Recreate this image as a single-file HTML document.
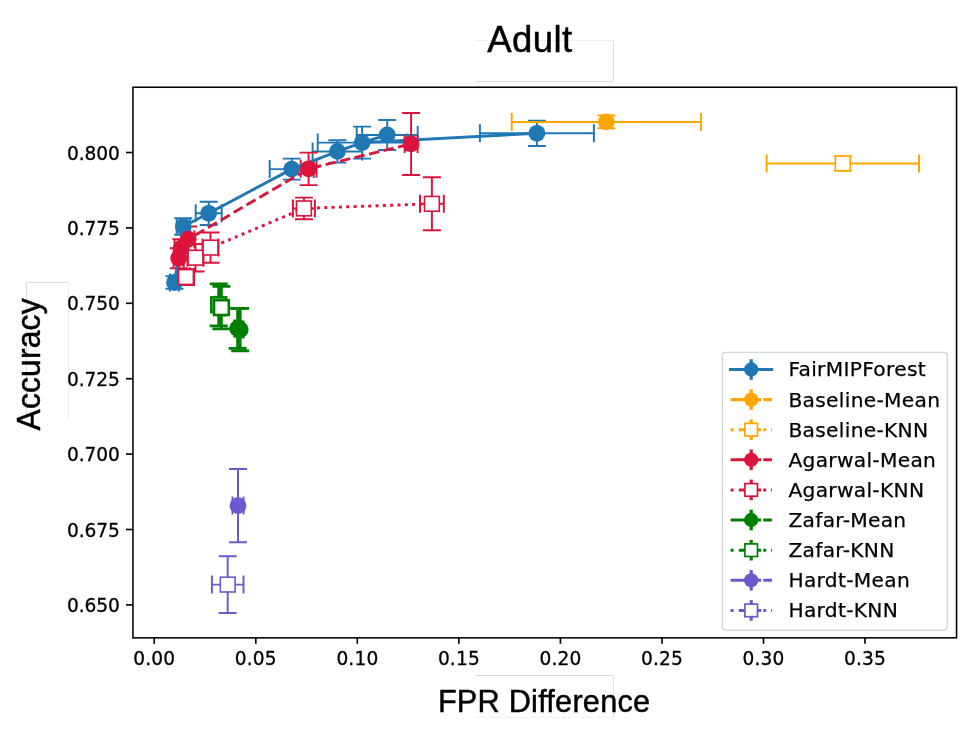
<!DOCTYPE html>
<html lang="en"><head><meta charset="utf-8"><title>Adult</title>
<style>html,body{margin:0;padding:0;background:#fff}body{width:969px;height:729px;overflow:hidden}</style></head>
<body>
<svg width="969" height="729" viewBox="0 0 969 729" style="display:block">
<rect width="969" height="729" fill="#fff"/>
<g fill="none" stroke-width="1">
<path d="M475.5 40.5H613.5" stroke="#efefef"/><path d="M613.5 40.5V81.5H475.5" stroke="#dcdcdc"/>
<path d="M475.5 675.5H613.5" stroke="#d9d9d9"/><path d="M613.5 675.5V717.5" stroke="#e2e2e2"/><path d="M475.5 717.5H613.5" stroke="#f2f2f2"/>
<path d="M26.5 419.5V282.5H68.5" stroke="#dddddd"/><path d="M68.5 282.5V419.5" stroke="#ececec"/>
</g>
<defs><clipPath id="ax"><rect x="132.95" y="87.25" width="823.5999999999999" height="550.6"/></clipPath></defs>
<g clip-path="url(#ax)">
<path d="M170.0 282.5H179.0M170.0 273.5V291.5M179.0 273.5V291.5" stroke="#1f77b4" stroke-width="1.95" fill="none"/>
<path d="M174.5 276.3V288.7M165.5 276.3H183.5M165.5 288.7H183.5" stroke="#1f77b4" stroke-width="1.95" fill="none"/>
<path d="M176.7 226.5H189.9M176.7 217.5V235.5M189.9 217.5V235.5" stroke="#1f77b4" stroke-width="1.95" fill="none"/>
<path d="M183.3 218.3V234.7M174.3 218.3H192.3M174.3 234.7H192.3" stroke="#1f77b4" stroke-width="1.95" fill="none"/>
<path d="M195.7 213.3H221.7M195.7 204.3V222.3M221.7 204.3V222.3" stroke="#1f77b4" stroke-width="1.95" fill="none"/>
<path d="M208.7 201.7V224.9M199.7 201.7H217.7M199.7 224.9H217.7" stroke="#1f77b4" stroke-width="1.95" fill="none"/>
<path d="M269.7 169.1H313.7M269.7 160.1V178.1M313.7 160.1V178.1" stroke="#1f77b4" stroke-width="1.95" fill="none"/>
<path d="M291.7 158.6V179.6M282.7 158.6H300.7M282.7 179.6H300.7" stroke="#1f77b4" stroke-width="1.95" fill="none"/>
<path d="M312.6 151.4H362.2M312.6 142.4V160.4M362.2 142.4V160.4" stroke="#1f77b4" stroke-width="1.95" fill="none"/>
<path d="M337.4 140.2V162.6M328.4 140.2H346.4M328.4 162.6H346.4" stroke="#1f77b4" stroke-width="1.95" fill="none"/>
<path d="M317.7 142.6H406.5M317.7 133.6V151.6M406.5 133.6V151.6" stroke="#1f77b4" stroke-width="1.95" fill="none"/>
<path d="M362.1 126.6V158.6M353.1 126.6H371.1M353.1 158.6H371.1" stroke="#1f77b4" stroke-width="1.95" fill="none"/>
<path d="M356.7 134.9H417.7M356.7 125.9V143.9M417.7 125.9V143.9" stroke="#1f77b4" stroke-width="1.95" fill="none"/>
<path d="M387.2 119.9V149.9M378.2 119.9H396.2M378.2 149.9H396.2" stroke="#1f77b4" stroke-width="1.95" fill="none"/>
<path d="M479.9 133.3H593.9M479.9 124.3V142.3M593.9 124.3V142.3" stroke="#1f77b4" stroke-width="1.95" fill="none"/>
<path d="M536.9 120.7V145.9M527.9 120.7H545.9M527.9 145.9H545.9" stroke="#1f77b4" stroke-width="1.95" fill="none"/>
<path d="M511.7 121.9H700.9M511.7 112.9V130.9M700.9 112.9V130.9" stroke="#ffa500" stroke-width="1.95" fill="none"/>
<path d="M606.3 115.5V128.3M597.3 115.5H615.3M597.3 128.3H615.3" stroke="#ffa500" stroke-width="1.95" fill="none"/>
<path d="M766.6 163.4H919.0M766.6 154.4V172.4M919.0 154.4V172.4" stroke="#ffa500" stroke-width="1.95" fill="none"/>
<path d="M842.8 156.4V170.4M833.8 156.4H851.8M833.8 170.4H851.8" stroke="#ffa500" stroke-width="1.95" fill="none"/>
<path d="M173.7 258.3H183.7M173.7 249.3V267.3M183.7 249.3V267.3" stroke="#dc143c" stroke-width="1.95" fill="none"/>
<path d="M178.7 248.3V268.3M169.7 248.3H187.7M169.7 268.3H187.7" stroke="#dc143c" stroke-width="1.95" fill="none"/>
<path d="M174.6 247.9H188.0M174.6 238.9V256.9M188.0 238.9V256.9" stroke="#dc143c" stroke-width="1.95" fill="none"/>
<path d="M181.3 239.2V256.6M172.3 239.2H190.3M172.3 256.6H190.3" stroke="#dc143c" stroke-width="1.95" fill="none"/>
<path d="M182.0 239.2H194.4M182.0 230.2V248.2M194.4 230.2V248.2" stroke="#dc143c" stroke-width="1.95" fill="none"/>
<path d="M188.2 226.5V251.9M179.2 226.5H197.2M179.2 251.9H197.2" stroke="#dc143c" stroke-width="1.95" fill="none"/>
<path d="M300.7 168.8H316.5M300.7 159.8V177.8M316.5 159.8V177.8" stroke="#dc143c" stroke-width="1.95" fill="none"/>
<path d="M308.6 152.6V185.1M299.6 152.6H317.6M299.6 185.1H317.6" stroke="#dc143c" stroke-width="1.95" fill="none"/>
<path d="M404.6 143.9H417.6M404.6 134.9V152.9M417.6 134.9V152.9" stroke="#dc143c" stroke-width="1.95" fill="none"/>
<path d="M411.1 112.9V174.9M402.1 112.9H420.1M402.1 174.9H420.1" stroke="#dc143c" stroke-width="1.95" fill="none"/>
<path d="M178.0 277.0H194.0M178.0 268.0V286.0M194.0 268.0V286.0" stroke="#dc143c" stroke-width="1.95" fill="none"/>
<path d="M186.0 269.1V284.9M177.0 269.1H195.0M177.0 284.9H195.0" stroke="#dc143c" stroke-width="1.95" fill="none"/>
<path d="M187.5 257.7H203.5M187.5 248.7V266.7M203.5 248.7V266.7" stroke="#dc143c" stroke-width="1.95" fill="none"/>
<path d="M195.5 243.9V271.5M186.5 243.9H204.5M186.5 271.5H204.5" stroke="#dc143c" stroke-width="1.95" fill="none"/>
<path d="M202.5 247.6H218.5M202.5 238.6V256.6M218.5 238.6V256.6" stroke="#dc143c" stroke-width="1.95" fill="none"/>
<path d="M210.5 232.4V262.8M201.5 232.4H219.5M201.5 262.8H219.5" stroke="#dc143c" stroke-width="1.95" fill="none"/>
<path d="M292.9 208.4H314.9M292.9 199.4V217.4M314.9 199.4V217.4" stroke="#dc143c" stroke-width="1.95" fill="none"/>
<path d="M303.9 197.6V219.2M294.9 197.6H312.9M294.9 219.2H312.9" stroke="#dc143c" stroke-width="1.95" fill="none"/>
<path d="M420.0 203.8H443.8M420.0 194.8V212.8M443.8 194.8V212.8" stroke="#dc143c" stroke-width="1.95" fill="none"/>
<path d="M431.9 177.3V230.3M422.9 177.3H440.9M422.9 230.3H440.9" stroke="#dc143c" stroke-width="1.95" fill="none"/>
<path d="M234.6 328.4H240.6M234.6 319.4V337.4M240.6 319.4V337.4" stroke="#008000" stroke-width="2.8" fill="none"/>
<path d="M237.6 308.4V348.4M228.6 308.4H246.6M228.6 348.4H246.6" stroke="#008000" stroke-width="2.8" fill="none"/>
<path d="M237.2 329.6H243.2M237.2 320.6V338.6M243.2 320.6V338.6" stroke="#008000" stroke-width="2.8" fill="none"/>
<path d="M240.2 308.4V350.8M231.2 308.4H249.2M231.2 350.8H249.2" stroke="#008000" stroke-width="2.8" fill="none"/>
<path d="M215.7 304.8H221.7M215.7 295.8V313.8M221.7 295.8V313.8" stroke="#008000" stroke-width="2.8" fill="none"/>
<path d="M218.7 283.8V325.8M209.7 283.8H227.7M209.7 325.8H227.7" stroke="#008000" stroke-width="2.8" fill="none"/>
<path d="M218.4 307.6H224.4M218.4 298.6V316.6M224.4 298.6V316.6" stroke="#008000" stroke-width="2.8" fill="none"/>
<path d="M221.4 286.4V328.8M212.4 286.4H230.4M212.4 328.8H230.4" stroke="#008000" stroke-width="2.8" fill="none"/>
<path d="M232.5 505.6H243.5M232.5 496.6V514.6M243.5 496.6V514.6" stroke="#6a5acd" stroke-width="1.95" fill="none"/>
<path d="M238.0 468.9V542.3M229.0 468.9H247.0M229.0 542.3H247.0" stroke="#6a5acd" stroke-width="1.95" fill="none"/>
<path d="M211.9 584.6H243.5M211.9 575.6V593.6M243.5 575.6V593.6" stroke="#6a5acd" stroke-width="1.95" fill="none"/>
<path d="M227.7 556.2V613.0M218.7 556.2H236.7M218.7 613.0H236.7" stroke="#6a5acd" stroke-width="1.95" fill="none"/>
<path d="M174.5 282.5L183.3 226.5L208.7 213.3L291.7 169.1L337.4 151.4L362.1 142.6L387.2 134.9L362.1 142.6L536.9 133.3" stroke="#1f77b4" stroke-width="2.9" fill="none" stroke-linejoin="round"/>
<circle cx="174.5" cy="282.5" r="8.4" fill="#1f77b4"/>
<circle cx="183.3" cy="226.5" r="8.4" fill="#1f77b4"/>
<circle cx="208.7" cy="213.3" r="8.4" fill="#1f77b4"/>
<circle cx="291.7" cy="169.1" r="8.4" fill="#1f77b4"/>
<circle cx="337.4" cy="151.4" r="8.4" fill="#1f77b4"/>
<circle cx="362.1" cy="142.6" r="8.4" fill="#1f77b4"/>
<circle cx="387.2" cy="134.9" r="8.4" fill="#1f77b4"/>
<circle cx="536.9" cy="133.3" r="8.4" fill="#1f77b4"/>
<circle cx="606.3" cy="121.9" r="8.4" fill="#ffa500"/>
<rect x="835.4" y="156.0" width="14.8" height="14.8" fill="#fff" stroke="#ffa500" stroke-width="1.6"/>
<path d="M178.7 258.3L181.3 247.9L188.2 239.2L308.6 168.8L411.1 143.9" stroke="#dc143c" stroke-width="2.9" fill="none" stroke-linejoin="round" stroke-dasharray="10.4 4.5"/>
<circle cx="178.7" cy="258.3" r="8.4" fill="#dc143c"/>
<circle cx="181.3" cy="247.9" r="8.4" fill="#dc143c"/>
<circle cx="188.2" cy="239.2" r="8.4" fill="#dc143c"/>
<circle cx="308.6" cy="168.8" r="8.4" fill="#dc143c"/>
<circle cx="411.1" cy="143.9" r="8.4" fill="#dc143c"/>
<path d="M186.0 277.0L195.5 257.7L210.5 247.6L303.9 208.4L431.9 203.8" stroke="#dc143c" stroke-width="2.9" fill="none" stroke-linejoin="round" stroke-dasharray="3.0 4.33"/>
<rect x="178.6" y="269.6" width="14.8" height="14.8" fill="#fff" stroke="#dc143c" stroke-width="1.6"/>
<rect x="188.1" y="250.3" width="14.8" height="14.8" fill="#fff" stroke="#dc143c" stroke-width="1.6"/>
<rect x="203.1" y="240.2" width="14.8" height="14.8" fill="#fff" stroke="#dc143c" stroke-width="1.6"/>
<rect x="296.5" y="201.0" width="14.8" height="14.8" fill="#fff" stroke="#dc143c" stroke-width="1.6"/>
<rect x="424.5" y="196.4" width="14.8" height="14.8" fill="#fff" stroke="#dc143c" stroke-width="1.6"/>
<path d="M237.6 328.4L240.2 329.6" stroke="#008000" stroke-width="2.9" fill="none" stroke-linejoin="round" stroke-dasharray="10.4 4.5"/>
<circle cx="237.6" cy="328.4" r="8.4" fill="#008000"/>
<circle cx="240.2" cy="329.6" r="8.4" fill="#008000"/>
<path d="M218.7 304.8L221.4 307.6" stroke="#008000" stroke-width="2.9" fill="none" stroke-linejoin="round" stroke-dasharray="3.0 4.33"/>
<rect x="211.3" y="297.4" width="14.8" height="14.8" fill="#fff" stroke="#008000" stroke-width="2.6"/>
<rect x="214.0" y="300.2" width="14.8" height="14.8" fill="#fff" stroke="#008000" stroke-width="2.6"/>
<circle cx="238.0" cy="505.6" r="8.4" fill="#6a5acd"/>
<rect x="220.3" y="577.2" width="14.8" height="14.8" fill="#fff" stroke="#6a5acd" stroke-width="1.6"/>
</g>
<g stroke="#000" stroke-width="1.55" fill="none">
<path d="M154.2 637.85V643.8" stroke-width="1.65"/>
<path d="M255.8 637.85V643.8" stroke-width="1.65"/>
<path d="M357.3 637.85V643.8" stroke-width="1.65"/>
<path d="M458.8 637.85V643.8" stroke-width="1.65"/>
<path d="M560.4 637.85V643.8" stroke-width="1.65"/>
<path d="M662.0 637.85V643.8" stroke-width="1.65"/>
<path d="M763.5 637.85V643.8" stroke-width="1.65"/>
<path d="M865.0 637.85V643.8" stroke-width="1.65"/>
<path d="M132.95 604.9H126.0" stroke-width="1.65"/>
<path d="M132.95 529.5H126.0" stroke-width="1.65"/>
<path d="M132.95 454.1H126.0" stroke-width="1.65"/>
<path d="M132.95 378.7H126.0" stroke-width="1.65"/>
<path d="M132.95 303.3H126.0" stroke-width="1.65"/>
<path d="M132.95 227.9H126.0" stroke-width="1.65"/>
<path d="M132.95 152.5H126.0" stroke-width="1.65"/>
<rect x="132.95" y="87.25" width="823.6" height="550.6"/>
</g>
<g font-family="'DejaVu Sans', 'Liberation Sans', sans-serif" font-size="18.6" fill="#000" stroke="#000" stroke-width="0.3">
<text x="154.3" y="665.0" text-anchor="middle" letter-spacing="0.15">0.00</text>
<text x="255.8" y="665.0" text-anchor="middle" letter-spacing="0.15">0.05</text>
<text x="357.4" y="665.0" text-anchor="middle" letter-spacing="0.15">0.10</text>
<text x="458.9" y="665.0" text-anchor="middle" letter-spacing="0.15">0.15</text>
<text x="560.5" y="665.0" text-anchor="middle" letter-spacing="0.15">0.20</text>
<text x="662.1" y="665.0" text-anchor="middle" letter-spacing="0.15">0.25</text>
<text x="763.6" y="665.0" text-anchor="middle" letter-spacing="0.15">0.30</text>
<text x="865.1" y="665.0" text-anchor="middle" letter-spacing="0.15">0.35</text>
<text x="119.6" y="611.9" text-anchor="end" letter-spacing="-0.15">0.650</text>
<text x="119.6" y="536.5" text-anchor="end" letter-spacing="-0.15">0.675</text>
<text x="119.6" y="461.1" text-anchor="end" letter-spacing="-0.15">0.700</text>
<text x="119.6" y="385.7" text-anchor="end" letter-spacing="-0.15">0.725</text>
<text x="119.6" y="310.3" text-anchor="end" letter-spacing="-0.15">0.750</text>
<text x="119.6" y="234.9" text-anchor="end" letter-spacing="-0.15">0.775</text>
<text x="119.6" y="159.5" text-anchor="end" letter-spacing="-0.15">0.800</text>
</g>
<g font-family="'Liberation Sans', sans-serif" fill="#000" stroke="#000" stroke-width="0.45">
<text x="487.3" y="51.8" font-size="36.6" letter-spacing="0.4">Adult</text>
<text x="437.9" y="711.6" font-size="30.7" letter-spacing="0.23">FPR Difference</text>
<text transform="translate(40.3 430.4) rotate(-90) scale(1 1.035)" font-size="31.8" letter-spacing="0.17">Accuracy</text>
</g>
<rect x="722.4" y="352.4" width="224.8" height="277.7" rx="3.4" fill="#fff" fill-opacity="0.8" stroke="#d4d4d4" stroke-width="1.4"/>
<path d="M729 369.5H773.2" stroke="#1f77b4" stroke-width="3.05"/>
<path d="M751.2 359.2V379.8" stroke="#1f77b4" stroke-width="3.2"/>
<circle cx="751.2" cy="369.5" r="7.15" fill="#1f77b4"/>
<text x="788.4" y="376.4" font-family="'DejaVu Sans', 'Liberation Sans', sans-serif" font-size="20.2" letter-spacing="0.31" fill="#000" stroke="#000" stroke-width="0.25">FairMIPForest</text>
<path d="M730.6 399.6H761.2M763.3 399.6H771.9" stroke="#ffa500" stroke-width="3.05"/>
<path d="M751.2 389.3V409.9" stroke="#ffa500" stroke-width="3.2"/>
<circle cx="751.2" cy="399.6" r="7.15" fill="#ffa500"/>
<text x="788.4" y="406.5" font-family="'DejaVu Sans', 'Liberation Sans', sans-serif" font-size="20.2" letter-spacing="0.31" fill="#000" stroke="#000" stroke-width="0.25">Baseline-Mean</text>
<path d="M730.6 429.7H733.6M738.8 429.7H761.2M763.3 429.7H766.2M771.0 429.7H771.9" stroke="#ffa500" stroke-width="3.05"/>
<path d="M751.2 419.4V440.0" stroke="#ffa500" stroke-width="3.2"/>
<rect x="744.9" y="423.4" width="12.6" height="12.6" fill="#fff" stroke="#ffa500" stroke-width="1.7"/>
<text x="788.4" y="436.6" font-family="'DejaVu Sans', 'Liberation Sans', sans-serif" font-size="20.2" letter-spacing="0.31" fill="#000" stroke="#000" stroke-width="0.25">Baseline-KNN</text>
<path d="M730.6 459.8H761.2M763.3 459.8H771.9" stroke="#dc143c" stroke-width="3.05"/>
<path d="M751.2 449.5V470.1" stroke="#dc143c" stroke-width="3.2"/>
<circle cx="751.2" cy="459.8" r="7.15" fill="#dc143c"/>
<text x="788.4" y="466.7" font-family="'DejaVu Sans', 'Liberation Sans', sans-serif" font-size="20.2" letter-spacing="0.31" fill="#000" stroke="#000" stroke-width="0.25">Agarwal-Mean</text>
<path d="M730.6 489.9H733.6M738.8 489.9H761.2M763.3 489.9H766.2M771.0 489.9H771.9" stroke="#dc143c" stroke-width="3.05"/>
<path d="M751.2 479.6V500.2" stroke="#dc143c" stroke-width="3.2"/>
<rect x="744.9" y="483.6" width="12.6" height="12.6" fill="#fff" stroke="#dc143c" stroke-width="1.7"/>
<text x="788.4" y="496.8" font-family="'DejaVu Sans', 'Liberation Sans', sans-serif" font-size="20.2" letter-spacing="0.31" fill="#000" stroke="#000" stroke-width="0.25">Agarwal-KNN</text>
<path d="M730.6 520.0H761.2M763.3 520.0H771.9" stroke="#008000" stroke-width="3.05"/>
<path d="M751.2 509.7V530.3" stroke="#008000" stroke-width="3.2"/>
<circle cx="751.2" cy="520.0" r="7.15" fill="#008000"/>
<text x="788.4" y="526.9" font-family="'DejaVu Sans', 'Liberation Sans', sans-serif" font-size="20.2" letter-spacing="0.31" fill="#000" stroke="#000" stroke-width="0.25">Zafar-Mean</text>
<path d="M730.6 550.2H733.6M738.8 550.2H761.2M763.3 550.2H766.2M771.0 550.2H771.9" stroke="#008000" stroke-width="3.05"/>
<path d="M751.2 539.9V560.5" stroke="#008000" stroke-width="3.2"/>
<rect x="744.9" y="543.9" width="12.6" height="12.6" fill="#fff" stroke="#008000" stroke-width="1.7"/>
<text x="788.4" y="557.1" font-family="'DejaVu Sans', 'Liberation Sans', sans-serif" font-size="20.2" letter-spacing="0.31" fill="#000" stroke="#000" stroke-width="0.25">Zafar-KNN</text>
<path d="M730.6 580.3H761.2M763.3 580.3H771.9" stroke="#6a5acd" stroke-width="3.05"/>
<path d="M751.2 570.0V590.6" stroke="#6a5acd" stroke-width="3.2"/>
<circle cx="751.2" cy="580.3" r="7.15" fill="#6a5acd"/>
<text x="788.4" y="587.2" font-family="'DejaVu Sans', 'Liberation Sans', sans-serif" font-size="20.2" letter-spacing="0.31" fill="#000" stroke="#000" stroke-width="0.25">Hardt-Mean</text>
<path d="M730.6 610.4H733.6M738.8 610.4H761.2M763.3 610.4H766.2M771.0 610.4H771.9" stroke="#6a5acd" stroke-width="3.05"/>
<path d="M751.2 600.1V620.7" stroke="#6a5acd" stroke-width="3.2"/>
<rect x="744.9" y="604.1" width="12.6" height="12.6" fill="#fff" stroke="#6a5acd" stroke-width="1.7"/>
<text x="788.4" y="617.3" font-family="'DejaVu Sans', 'Liberation Sans', sans-serif" font-size="20.2" letter-spacing="0.31" fill="#000" stroke="#000" stroke-width="0.25">Hardt-KNN</text>
</svg>
</body></html>
